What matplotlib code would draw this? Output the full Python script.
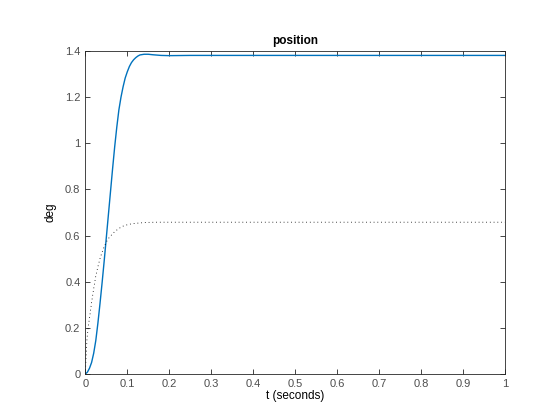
import matplotlib.pyplot as plt
from matplotlib.ticker import FuncFormatter

plt.rcParams['font.family'] = ['Liberation Sans', 'DejaVu Sans']

# blue solid response
t_pos = [0, 0.005, 0.01, 0.015, 0.02, 0.025, 0.03, 0.035, 0.04, 0.045, 0.05,
         0.055, 0.06, 0.065, 0.07, 0.075, 0.08, 0.085, 0.09, 0.095, 0.1,
         0.105, 0.11, 0.115, 0.12, 0.125, 0.13, 0.14, 0.15, 0.16, 0.18, 0.2,
         0.25, 0.3, 0.4, 0.5, 0.6, 0.7, 0.8, 0.9, 1.0]
y_pos = [0, 0.008, 0.025, 0.05, 0.09, 0.145, 0.22, 0.305, 0.395, 0.49, 0.59,
         0.69, 0.79, 0.89, 0.985, 1.07, 1.145, 1.20, 1.245, 1.283, 1.31,
         1.333, 1.35, 1.362, 1.371, 1.378, 1.383, 1.386, 1.386, 1.384, 1.381, 1.380,
         1.381, 1.381, 1.381, 1.381, 1.381, 1.381, 1.381, 1.381, 1.381]

# black dotted response
t_dot = [0, 0.002, 0.004, 0.007, 0.011, 0.015, 0.02, 0.025, 0.03, 0.035,
         0.04, 0.045, 0.05, 0.055, 0.06, 0.07, 0.08, 0.09, 0.1, 0.11, 0.125,
         0.145, 0.17, 0.2, 0.3, 0.4, 0.5, 0.6, 0.7, 0.8, 0.9, 1.0]
y_dot = [0, 0.08, 0.15, 0.205, 0.255, 0.31, 0.37, 0.425, 0.465, 0.50,
         0.528, 0.552, 0.572, 0.587, 0.598, 0.617, 0.631, 0.641, 0.647, 0.651, 0.654,
         0.657, 0.658, 0.658, 0.658, 0.658, 0.658, 0.658, 0.658, 0.658, 0.658, 0.658]

x_ticks = [0, 0.1, 0.2, 0.3, 0.4, 0.5, 0.6, 0.7, 0.8, 0.9, 1]
y_ticks = [0, 0.2, 0.4, 0.6, 0.8, 1, 1.2, 1.4]

fig = plt.figure(figsize=(5.6, 4.2), dpi=100)
ax = fig.add_axes([0.1523, 0.1095, 0.75, 0.769])

ax.plot(t_pos, y_pos, color='#0072BD', linewidth=1.0)
ax.plot(t_dot, y_dot, color='black', linewidth=0.6, linestyle=(0, (1, 3.5)))

ax.set_xlim(0, 1)
ax.set_ylim(0, 1.4)
ax.set_xticks(x_ticks)
ax.set_yticks(y_ticks)
fmt = FuncFormatter(lambda v, p: '%g' % round(v, 2))
ax.xaxis.set_major_formatter(fmt)
ax.yaxis.set_major_formatter(fmt)

axis_col = '#262626'
for s in ax.spines.values():
    s.set_color(axis_col)
    s.set_linewidth(0.6)
ax.tick_params(direction='in', length=3.5, width=0.6, colors=axis_col,
               labelsize=8, top=True, right=True, labelcolor='#4d4d4d')

ax.set_title('position', fontsize=8.5, fontweight='bold', pad=5)
ax.set_xlabel('t (seconds)', fontsize=8.5, labelpad=1)
ax.set_ylabel('deg', fontsize=8.5, labelpad=6)

fig.savefig('out.png', dpi=100)
